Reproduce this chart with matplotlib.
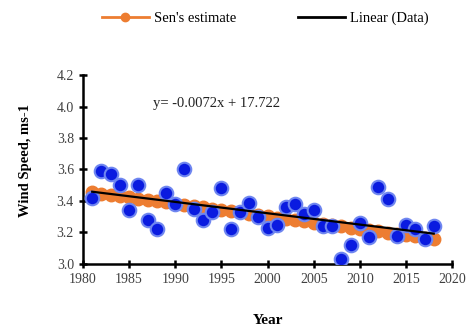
import matplotlib
matplotlib.use("Agg")
import matplotlib.pyplot as plt
from matplotlib.lines import Line2D

plt.rcParams['font.family'] = ['Liberation Serif', 'DejaVu Serif']

years = list(range(1981, 2019))
wind_speed = [3.42, 3.59, 3.57, 3.50, 3.34, 3.50, 3.28, 3.22, 3.45, 3.38,
              3.60, 3.35, 3.28, 3.33, 3.48, 3.22, 3.33, 3.39, 3.30, 3.23,
              3.25, 3.36, 3.38, 3.32, 3.34, 3.24, 3.24, 3.03, 3.12, 3.26,
              3.17, 3.49, 3.41, 3.18, 3.25, 3.22, 3.16, 3.24]
sens_estimate = [3.455, 3.447, 3.439, 3.431, 3.423, 3.415, 3.407, 3.399, 3.391, 3.383,
                 3.375, 3.367, 3.359, 3.351, 3.343, 3.335, 3.327, 3.319, 3.311, 3.303,
                 3.295, 3.287, 3.279, 3.271, 3.263, 3.255, 3.247, 3.239, 3.231, 3.223,
                 3.215, 3.207, 3.199, 3.191, 3.183, 3.175, 3.167, 3.159]
trend_slope = -0.0072
trend_intercept = 17.722
x_ticks = [1980, 1985, 1990, 1995, 2000, 2005, 2010, 2015, 2020]
y_ticks = [3.0, 3.2, 3.4, 3.6, 3.8, 4.0, 4.2]

fig = plt.figure(figsize=(4.74, 3.32), dpi=100)
ax = fig.add_axes([0.175, 0.205, 0.779, 0.569])

orange = '#ED7D31'
ax.plot(years, sens_estimate, color=orange, lw=2, marker='o', ms=9,
        markerfacecolor=orange, markeredgecolor=orange, zorder=2)
ax.scatter(years, wind_speed, s=95, color='#0A1BE0', edgecolors='#6F86F0',
           linewidths=1.5, zorder=3)
trend = [trend_slope * y + trend_intercept for y in years]
ax.plot([years[0], years[-1]], [trend[0], trend[-1]], color='black', lw=1.6, zorder=4)

ax.set_xlim(1980, 2020)
ax.set_ylim(3.0, 4.2)
ax.set_xticks(x_ticks)
ax.set_yticks(y_ticks)
ax.set_yticklabels([f"{v:.1f}" for v in y_ticks])
for s in ['top', 'right']:
    ax.spines[s].set_visible(False)
for s in ['left', 'bottom']:
    ax.spines[s].set_linewidth(1.8)
ax.tick_params(direction='inout', length=6, width=1.8, labelsize=10,
               labelcolor='#404040')

ax.text(1987.6, 4.02, f"y= {trend_slope}x + {trend_intercept}", fontsize=10.5,
        va='center', color='#222222')

ax.set_xlabel('Year', fontsize=11, fontweight='bold', labelpad=20)
ax.set_ylabel('Wind Speed, ms-1', fontsize=10.5, fontweight='bold')
ax.yaxis.set_label_coords(-0.138, 0.55)

handles = [Line2D([], [], color=orange, lw=2, marker='o', ms=6),
           Line2D([], [], color='black', lw=2)]
fig.legend(handles, ["Sen's estimate", "Linear (Data)"], loc='center',
           bbox_to_anchor=(0.56, 0.945), ncol=2, frameon=False, fontsize=10.5,
           handlelength=3.2, columnspacing=4.2, handletextpad=0.4)

fig.savefig('out.png', dpi=100)
